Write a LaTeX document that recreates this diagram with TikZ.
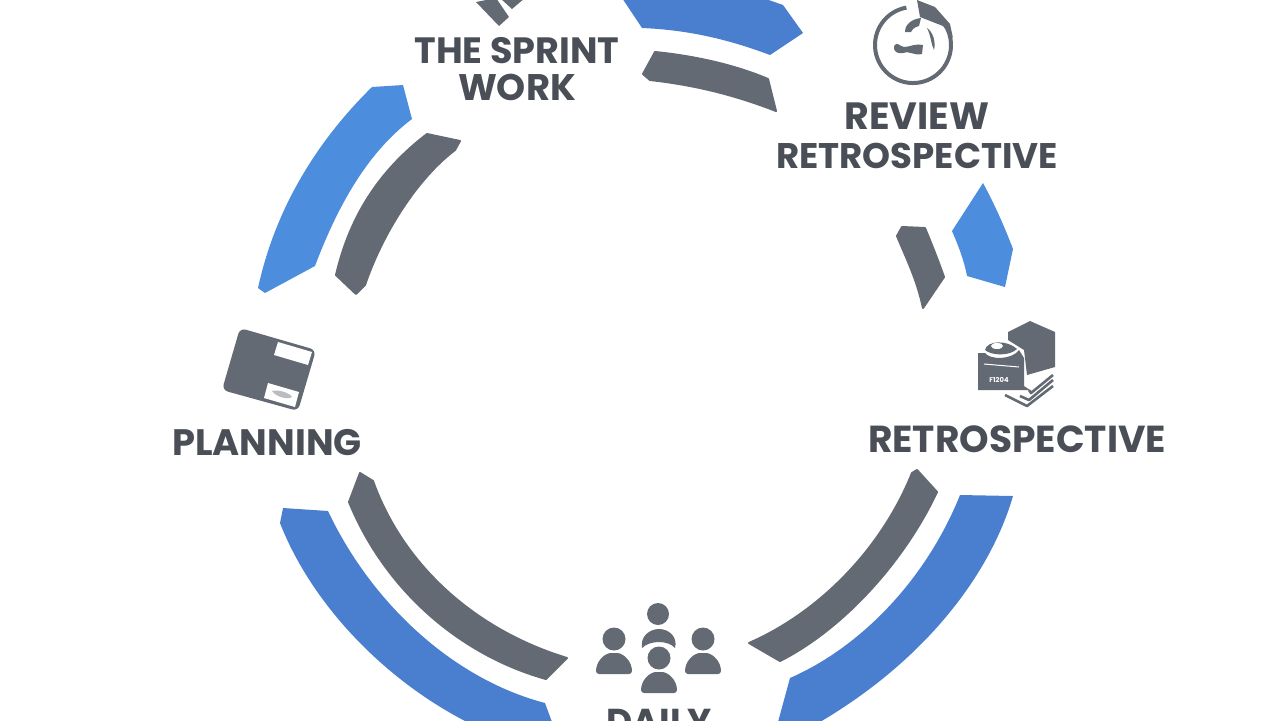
\documentclass[tikz,border=0pt]{standalone}
\usepackage{fontspec}
\setmainfont{Poppins}
\usetikzlibrary{positioning}
\definecolor{segblue}{HTML}{4A7FCF}
\definecolor{segblue2}{HTML}{4C8EDD}
\definecolor{seggray}{HTML}{646A73}
\definecolor{labelgray}{HTML}{4A4E56}
\tikzstyle{blue seg}=[fill=segblue,line join=round]
\tikzstyle{light seg}=[fill=segblue2,line join=round]
\tikzstyle{gray seg}=[fill=seggray,draw=seggray,line width=1pt,line join=round]
\tikzstyle{icon}=[fill=seggray]
\tikzstyle{icon hole}=[fill=white]
\newcommand{\stagelabel}[4][]{
  \node [anchor=base, inner sep=0pt, text=labelgray, font=\bfseries\fontsize{#4pt}{#4pt}\selectfont, #1] (#2) {#3}
}
\newcommand{\person}[2]{
  \fill[icon] (#1,#2-14) circle (11.5);
  \fill[icon,rounded corners=1.5pt] (#1-18,#2+21) .. controls (#1-18,#2+8) and (#1-9,#2) .. (#1,#2) .. controls (#1+9,#2) and (#1+18,#2+8) .. (#1+18,#2+21) -- cycle
}

\begin{document}
\begin{tikzpicture}[x=0.5pt,y=-0.5pt]
        \useasboundingbox (0,0) rectangle (1280,720);
        \clip (0,0) rectangle (1280,720);

        % labels
        \stagelabel[at={(517,63)}]{sprint}{THE SPRINT}{18.3};
        \stagelabel[below=18.5pt of sprint.base,anchor=base]{work}{WORK}{18.5};
        \stagelabel[at={(917,129)}]{review}{REVIEW}{19};
        \stagelabel[below=19.5pt of review.base,anchor=base]{reviewretro}{RETROSPECTIVE}{17.8};
        \stagelabel[at={(1017,452)}]{retro}{RETROSPECTIVE}{18.8};
        \stagelabel[at={(267,455)}]{planning}{PLANNING}{18.4};
        \stagelabel[at={(659,734)}]{daily}{DAILY}{18};

        % outer ring
        \fill[blue seg] (622,-2) -- (642,28) .. controls (690,30) and (730,40) .. (770,55) -- (803,33) -- (783,5) -- (763,-2) -- cycle;
        \fill[light seg] (372,87) -- (403,85) -- (412,119) .. controls (368,152) and (338,205) .. (315,266) -- (265,293) -- (258,288) .. controls (276,205) and (320,138) .. (372,87) -- cycle;
        \fill[light seg] (983,183) .. controls (995,205) and (1005,228) .. (1013,249) -- (1005,287) -- (967,276) .. controls (964,260) and (958,245) .. (952,231) -- cycle;
        \fill[blue seg] (960,495) -- (1013,496) .. controls (990,575) and (925,660) .. (820,722) -- (778,722) -- (790,678) .. controls (865,645) and (928,575) .. (960,495) -- cycle;
        \fill[blue seg] (283,508) -- (328,511) .. controls (370,600) and (450,678) .. (545,703) -- (552,722) -- (467,722) .. controls (385,680) and (312,605) .. (280,523) -- cycle;

        % inner ring
        \fill[gray seg] (655,52) .. controls (695,56) and (735,65) .. (768,79) -- (776,111) .. controls (735,95) and (695,85) .. (650,80) -- (643,74) -- cycle;
        \fill[gray seg] (427,134) -- (460,141) -- (455,150) .. controls (418,178) and (383,232) .. (365,285) -- (356,294) -- (336,275) .. controls (350,215) and (380,170) .. (427,134) -- cycle;
        \fill[gray seg] (902,227) -- (925,228) .. controls (932,245) and (938,260) .. (944,277) -- (923,308) .. controls (917,280) and (907,260) .. (897,236) -- cycle;
        \fill[gray seg] (917,470) -- (937,492) .. controls (905,560) and (845,628) .. (780,661) -- (749,643) .. controls (820,612) and (882,548) .. (912,473) -- cycle;
        \fill[gray seg] (360,473) -- (373,481) .. controls (403,565) and (475,630) .. (567,658) -- (546,679) .. controls (460,655) and (385,590) .. (349,502) -- cycle;

        % sprint icon
        \fill[icon] (476,2) -- (499,26) -- (509,17) -- (496,-2) -- cycle;
        \fill[icon] (500,-2) -- (512,9) -- (525,-2) -- cycle;

        % review icon
        \draw[seggray,line width=2pt] (906.4,7.6) arc (-100:-400:38);
        \fill[icon] (917,0) -- (935,7) -- (950,24) -- (953,38) -- (943,26) -- (920,17) -- cycle;
        \fill[icon] (905,32) .. controls (905,24) and (912,19) .. (921,18) -- (919,26) .. controls (914,27) and (912,30) .. (911,32) -- cycle;
        \fill[icon] (927,28) .. controls (933,32) and (936,42) .. (934,50) .. controls (931,44) and (931,36) .. (927,28) -- cycle;
        \fill[icon] (894,46) .. controls (897,41) and (899,46) .. (904,47) .. controls (910,47) and (916,43) .. (923,45) -- (922,54) .. controls (914,56) and (908,50) .. (903,53) .. controls (898,54) and (893,52) .. (894,46) -- cycle;

        % retrospective icon
        \fill[icon] (1030,321) -- (1055,332) -- (1055,367) -- (1027,375) -- (1024,350) -- (1008,340) -- (1008,332) -- cycle;
        \fill[icon] (978,353) -- (985,353) .. controls (990,360) and (1012,360) .. (1019,350) -- (1024,358) -- (1024,386) -- (1030,390) -- (978,390) -- cycle;
        \fill[icon] (985,350) .. controls (987,340) and (1008,340) .. (1017,349) .. controls (1010,356) and (992,356) .. (985,350) -- cycle;
        \fill[icon hole] (997,346) ellipse (6 and 3);
        \draw[white,line width=0.5pt] (984,364) -- (1019,367);
        \node[anchor=mid,inner sep=0pt,text=white,font=\bfseries\fontsize{3.4pt}{4pt}\selectfont] (retrocode) at (999,377) {F1204};
        \draw[seggray,line width=1.3pt,line join=round] (1005,395) -- (1027,406) -- (1053,386);
        \draw[seggray,line width=1.3pt,line join=round] (1020,396) -- (1029,400) -- (1053,380);
        \draw[seggray,line width=1.3pt,line join=round] (1029,390) -- (1031,393) -- (1053,375);

        % planning icon
        \fill[icon,rounded corners=3pt] (240,328) -- (316,350) -- (298,411) -- (222,390) -- cycle;
        \fill[icon hole] (278,342) -- (312,352) -- (308,365) -- (274,355) -- cycle;
        \fill[icon hole] (268,383) -- (299,392) -- (295,407) -- (264,398) -- cycle;
        \fill[seggray!45] (272,391) .. controls (278,389) and (290,393) .. (292,397) .. controls (288,400) and (276,397) .. (272,391) -- cycle;

        % daily icon
        \fill[icon] (658,614) circle (11);
        \fill[icon] (642,648) .. controls (640,637) and (649,629) .. (659,629) .. controls (669,629) and (678,637) .. (675,648) .. controls (668,640) and (650,640) .. (642,648) -- cycle;
        \person{614}{653};
        \person{703}{653};
        \person{659}{672};
\end{tikzpicture}
\end{document}
